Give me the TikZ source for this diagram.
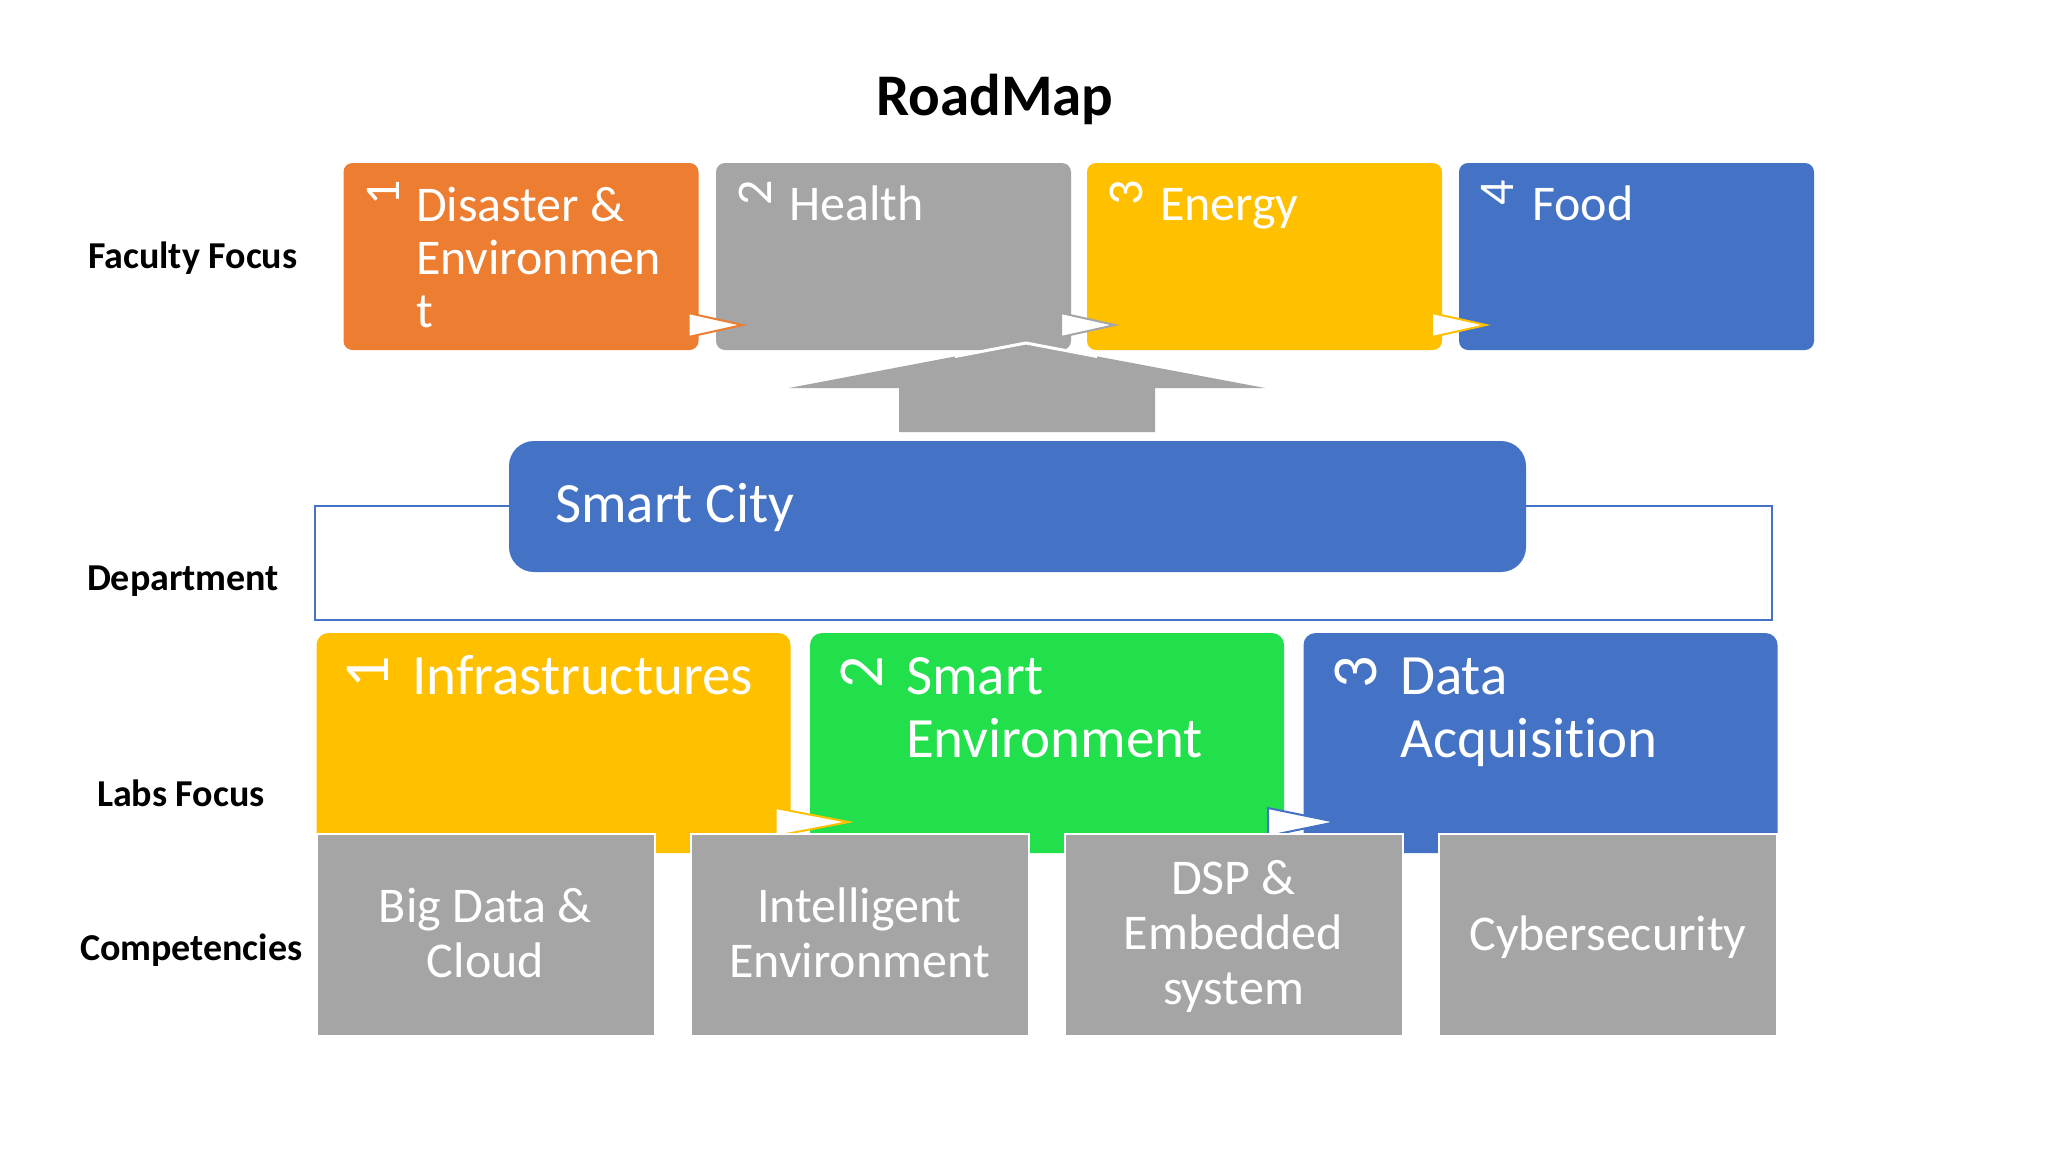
\documentclass[tikz,border=0pt]{standalone}
\usepackage{fontspec}
\setmainfont{Carlito}[Ligatures=NoCommon]
\definecolor{cOrange}{HTML}{ED7D31}
\definecolor{cGray}{HTML}{A5A5A5}
\definecolor{cYellow}{HTML}{FFC000}
\definecolor{cBlue}{HTML}{4472C4}
\definecolor{cGreen}{HTML}{22E04B}
\newcommand\fsTop{\fontsize{50pt}{53pt}\selectfont}
\newcommand\fsLab{\fontsize{57pt}{63pt}\selectfont}
\newcommand\fsNum{\fontsize{64pt}{64pt}\selectfont}
\newcommand\fsComp{\fontsize{50pt}{55pt}\selectfont}
\newcommand\fsSide{\fontsize{38pt}{40pt}\selectfont\bfseries}
\begin{document}
\begin{tikzpicture}[x=1pt,y=-1pt,
  every node/.style={inner sep=0pt,outer sep=0pt},
  topbox/.style={rounded corners=9pt,minimum width=355pt,minimum height=187pt},
  labbox/.style={rounded corners=12pt,minimum width=474pt,minimum height=220pt},
  compbox/.style={fill=cGray,draw=white,line width=2pt,minimum width=338pt,minimum height=202pt},
  wtext/.style={text=white,align=left,anchor=north west},
  ctext/.style={text=white,align=center,anchor=north,font=\fsComp},
  numtxt/.style={text=white,rotate=90},
  sidelbl/.style={anchor=base west,font=\fsSide},
  flag/.style={fill=white,line width=2pt,line join=miter}]
\useasboundingbox[fill=white] (0,0) rectangle (2048,1152);

% title
\node[anchor=base,font=\fontsize{59pt}{60pt}\selectfont\bfseries] (title) at (995,115) {RoadMap};

% side labels
\node[sidelbl] (lblFac) at (88,268) {Faculty Focus};
\node[sidelbl] (lblDep) at (87,590) {Department};
\node[sidelbl] (lblLab) at (97,806) {Labs Focus};
\node[sidelbl] (lblCom) at (80,960) {Competencies};

% faculty focus boxes
\node[topbox,fill=cOrange] (f1) at (521,256.5) {};
\node[topbox,fill=cGray]   (f2) at (893.5,256.5) {};
\node[topbox,fill=cYellow] (f3) at (1264.5,256.5) {};
\node[topbox,fill=cBlue]   (f4) at (1636.5,256.5) {};

\node[wtext,font=\fsTop] (t1) at (416,181) {\rule{0pt}{40pt}Disaster \&\\Environmen\\t};
\node[wtext,font=\fsTop] (t2) at (789,180) {\rule{0pt}{40pt}Health};
\node[wtext,font=\fsTop] (t3) at (1160,180) {\rule{0pt}{40pt}Energy};
\node[wtext,font=\fsTop] (t4) at (1532,180) {\rule{0pt}{40pt}Food};

\node[numtxt,font=\fsTop] (n1) at (383,193) {1};
\node[numtxt,font=\fsTop] (n2) at (755,193) {2};
\node[numtxt,font=\fsTop] (n3) at (1126,193) {3};
\node[numtxt,font=\fsTop] (n4) at (1497,193) {4};

% flags between faculty boxes
\foreach \b/\c in {f1/cOrange,f2/cGray,f3/cYellow}{
  \draw[flag,draw=\c] ([xshift=-10pt,yshift=37pt]\b.south east) -- ([xshift=44pt,yshift=25pt]\b.south east) -- ([xshift=-10pt,yshift=13pt]\b.south east) -- cycle;
}

% big up arrow
\fill[cGray]
  (1026,343) -- (1265,388) -- (1155,388) -- (1155,432) -- (899,432) -- (899,388) -- (789,388) -- cycle;
\draw[white,line width=3pt,line join=miter] (955,356.5) -- (1026,343) -- (1097,356.5);

% department frame and smart city
\node[draw=cBlue,line width=2.5pt,minimum width=1457pt,minimum height=114pt] (dept) at (1043.5,563) {};
\node[fill=cBlue,rounded corners=25pt,minimum width=1017pt,minimum height=131pt] (sc) at (1017.5,506.5) {};
\node[anchor=base west,text=white,font=\fsLab] (sctext) at (555,522) {Smart City};

% labs focus boxes
\node[labbox,fill=cYellow] (l1) at (553.5,743) {};
\node[labbox,fill=cGreen]  (l2) at (1047,743) {};
\node[labbox,fill=cBlue]   (l3) at (1540.5,743) {};

\node[wtext,font=\fsLab] (lt1) at (412,648) {\rule{0pt}{46pt}Infrastructures};
\node[wtext,font=\fsLab] (lt2) at (906,648) {\rule{0pt}{46pt}Smart\\Environment};
\node[wtext,font=\fsLab] (lt3) at (1400,648) {\rule{0pt}{46pt}Data\\Acquisition};

\node[numtxt,font=\fsNum] (m1) at (368,672) {1};
\node[numtxt,font=\fsNum] (m2) at (862,672) {2};
\node[numtxt,font=\fsNum] (m3) at (1356,672) {3};

\draw[flag,draw=cYellow] ([xshift=-15pt,yshift=45pt]l1.south east) -- ([xshift=58pt,yshift=31pt]l1.south east) -- ([xshift=-15pt,yshift=17pt]l1.south east) -- cycle;
\draw[flag,draw=cBlue] ([xshift=-16pt,yshift=45pt]l2.south east) -- ([xshift=52pt,yshift=31pt]l2.south east) -- ([xshift=-16pt,yshift=17pt]l2.south east) -- cycle;

% competencies
\node[compbox] (c1) at (485.5,935) {};
\node[compbox] (c2) at (859.5,935) {};
\node[compbox] (c3) at (1233.5,935) {};
\node[compbox] (c4) at (1608,935) {};

\node[ctext] (ct1) at (485.5,882) {\rule{0pt}{40pt}Big Data \&\\Cloud};
\node[ctext] (ct2) at (859.5,882) {\rule{0pt}{40pt}Intelligent\\Environment};
\node[ctext] (ct3) at (1233.5,854) {\rule{0pt}{40pt}DSP \&\\Embedded\\system};
\node[ctext] (ct4) at (1608,910) {\rule{0pt}{40pt}Cybersecurity};
\end{tikzpicture}
\end{document}
